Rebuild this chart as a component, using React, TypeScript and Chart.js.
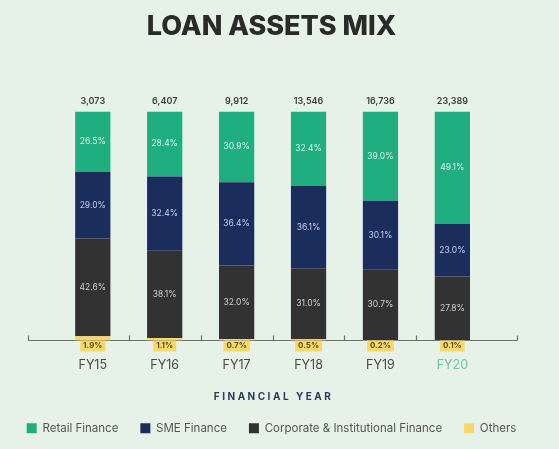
import React, { useEffect, useRef } from "react";
import { Chart, registerables } from "chart.js";

Chart.register(...registerables);

const categories = ["FY15", "FY16", "FY17", "FY18", "FY19", "FY20"];
const retail = [26.5, 28.4, 30.9, 32.4, 39.0, 49.1];
const sme = [29.0, 32.4, 36.4, 36.1, 30.1, 23.0];
const corporate = [42.6, 38.1, 32.0, 31.0, 30.7, 27.8];
const others = [1.9, 1.1, 0.7, 0.5, 0.2, 0.1];
const totals = [3073, 6407, 9912, 13546, 16736, 23389];

const BG = "#e6f2e7";
const GREEN = "#1fae7f";
const NAVY = "#1b2d5c";
const DARK = "#333232";
const YELLOW = "#f7d96a";
const FONT = "Inter, 'Noto Sans', sans-serif";

const X_MIN = -1.29;
const X_MAX = 6.26;
const AXIS_START = -0.9;
const AXIS_END = 5.9;

const segLabelColors: Record<string, string> = {
  "Retail Finance": "#d6f3e7",
  "SME Finance": "#c9cdea",
  "Corporate & Institutional Finance": "#d0d0d0",
};

const decorPlugin = {
  id: "decor",
  beforeDatasetsDraw(chart: any) {
    const { ctx, scales } = chart;
    const xs = scales.x;
    const ys = scales.y;
    const axisY = ys.getPixelForValue(0);
    ctx.save();
    ctx.strokeStyle = "#6e6e6e";
    ctx.lineWidth = 1.2;
    ctx.beginPath();
    ctx.moveTo(xs.getPixelForValue(AXIS_START), axisY);
    ctx.lineTo(xs.getPixelForValue(AXIS_END), axisY);
    const tickVals = [AXIS_START, ...categories.slice(1).map((_, i) => i + 0.5), AXIS_END];
    tickVals.forEach((v) => {
      const px = Math.round(xs.getPixelForValue(v)) + 0.5;
      ctx.moveTo(px, axisY);
      ctx.lineTo(px, axisY - 5);
    });
    ctx.stroke();
    ctx.restore();
  },
  afterDatasetsDraw(chart: any) {
    const { ctx, scales } = chart;
    const xs = scales.x;
    const ys = scales.y;
    const axisY = ys.getPixelForValue(0);
    ctx.save();
    ctx.textAlign = "center";
    ctx.textBaseline = "middle";
    chart.data.datasets.forEach((ds: any, di: number) => {
      const meta = chart.getDatasetMeta(di);
      meta.data.forEach((bar: any, i: number) => {
        const val = ds.data[i].y;
        const txt = val.toFixed(1) + "%";
        if (ds.label === "Others") {
          ctx.font = `bold 8px ${FONT}`;
          const w = ctx.measureText(txt).width + 6;
          ctx.fillStyle = YELLOW;
          ctx.fillRect(bar.x - w / 2, axisY, w, 11);
          ctx.fillStyle = "#5e4d06";
          ctx.fillText(txt, bar.x, axisY + 5.5);
        } else {
          ctx.font = `8.5px ${FONT}`;
          ctx.fillStyle = segLabelColors[ds.label];
          ctx.fillText(txt, bar.x, (bar.y + bar.base) / 2);
        }
      });
    });
    const topMeta = chart.getDatasetMeta(chart.data.datasets.length - 1);
    ctx.font = `600 9px ${FONT}`;
    ctx.fillStyle = "#3a3a3a";
    topMeta.data.forEach((bar: any, i: number) => {
      ctx.fillText(totals[i].toLocaleString("en-US"), bar.x, ys.getPixelForValue(100) - 10);
    });
    ctx.font = `bold 10px ${FONT}`;
    (ctx as any).letterSpacing = "2.5px";
    ctx.fillStyle = "#2d3b5a";
    const cx = (xs.getPixelForValue(AXIS_START) + xs.getPixelForValue(AXIS_END)) / 2;
    ctx.fillText("FINANCIAL YEAR", cx + 1, axisY + 56);
    ctx.restore();
  },
};

const bgPlugin = {
  id: "bg",
  beforeDraw(chart: any) {
    const { ctx, width, height } = chart;
    ctx.save();
    ctx.fillStyle = BG;
    ctx.fillRect(0, 0, width, height);
    ctx.restore();
  },
};

const toPoints = (arr: number[]) => arr.map((v, i) => ({ x: i, y: v }));

export default function App() {
  const ref = useRef<HTMLCanvasElement | null>(null);

  useEffect(() => {
    if (!ref.current) return;
    const mk = (label: string, data: number[], color: string) => ({
      label,
      data: toPoints(data),
      backgroundColor: color,
      borderWidth: 0,
      barPercentage: 0.49,
      categoryPercentage: 1,
    });
    const chart = new Chart(ref.current, {
      type: "bar",
      data: {
        datasets: [
          mk("Others", others, YELLOW),
          mk("Corporate & Institutional Finance", corporate, DARK),
          mk("SME Finance", sme, NAVY),
          mk("Retail Finance", retail, GREEN),
        ],
      },
      options: {
        responsive: false,
        animation: false,
        layout: { padding: { left: 0, right: 16, top: 0, bottom: 5 } },
        scales: {
          x: {
            type: "linear",
            stacked: true,
            offset: false,
            min: X_MIN,
            max: X_MAX,
            afterBuildTicks: (scale: any) => {
              scale.ticks = categories.map((_, i) => ({ value: i }));
            },
            afterFit: (scale: any) => {
              scale.height += 11;
            },
            grid: { display: false, drawTicks: false },
            border: { display: false },
            ticks: {
              padding: 17,
              autoSkip: false,
              maxRotation: 0,
              font: { size: 12.5, family: FONT },
              color: (c: any) => (c.index === categories.length - 1 ? "#6cc8a4" : "#4a4a4a"),
              callback: (v: any) => categories[v] ?? "",
            },
          },
          y: {
            stacked: true,
            min: 0,
            max: 100,
            display: false,
          },
        },
        plugins: {
          tooltip: { enabled: false },
          title: {
            display: true,
            text: "LOAN ASSETS MIX",
            color: "#2a2a2a",
            font: { size: 27, weight: "800", family: FONT },
            padding: { top: 11, bottom: 68 },
          },
          legend: {
            position: "bottom",
            reverse: true,
            labels: {
              boxWidth: 10,
              boxHeight: 10,
              padding: 22,
              color: "#555555",
              font: { size: 11.5, family: FONT },
            },
          },
        },
      },
      plugins: [bgPlugin, decorPlugin],
    });
    return () => chart.destroy();
  }, []);

  return (
    <div style={{ position: "fixed", left: 0, top: 0, width: 559, height: 449, background: BG }}>
      <canvas ref={ref} width={559} height={449} style={{ display: "block" }} />
    </div>
  );
}
